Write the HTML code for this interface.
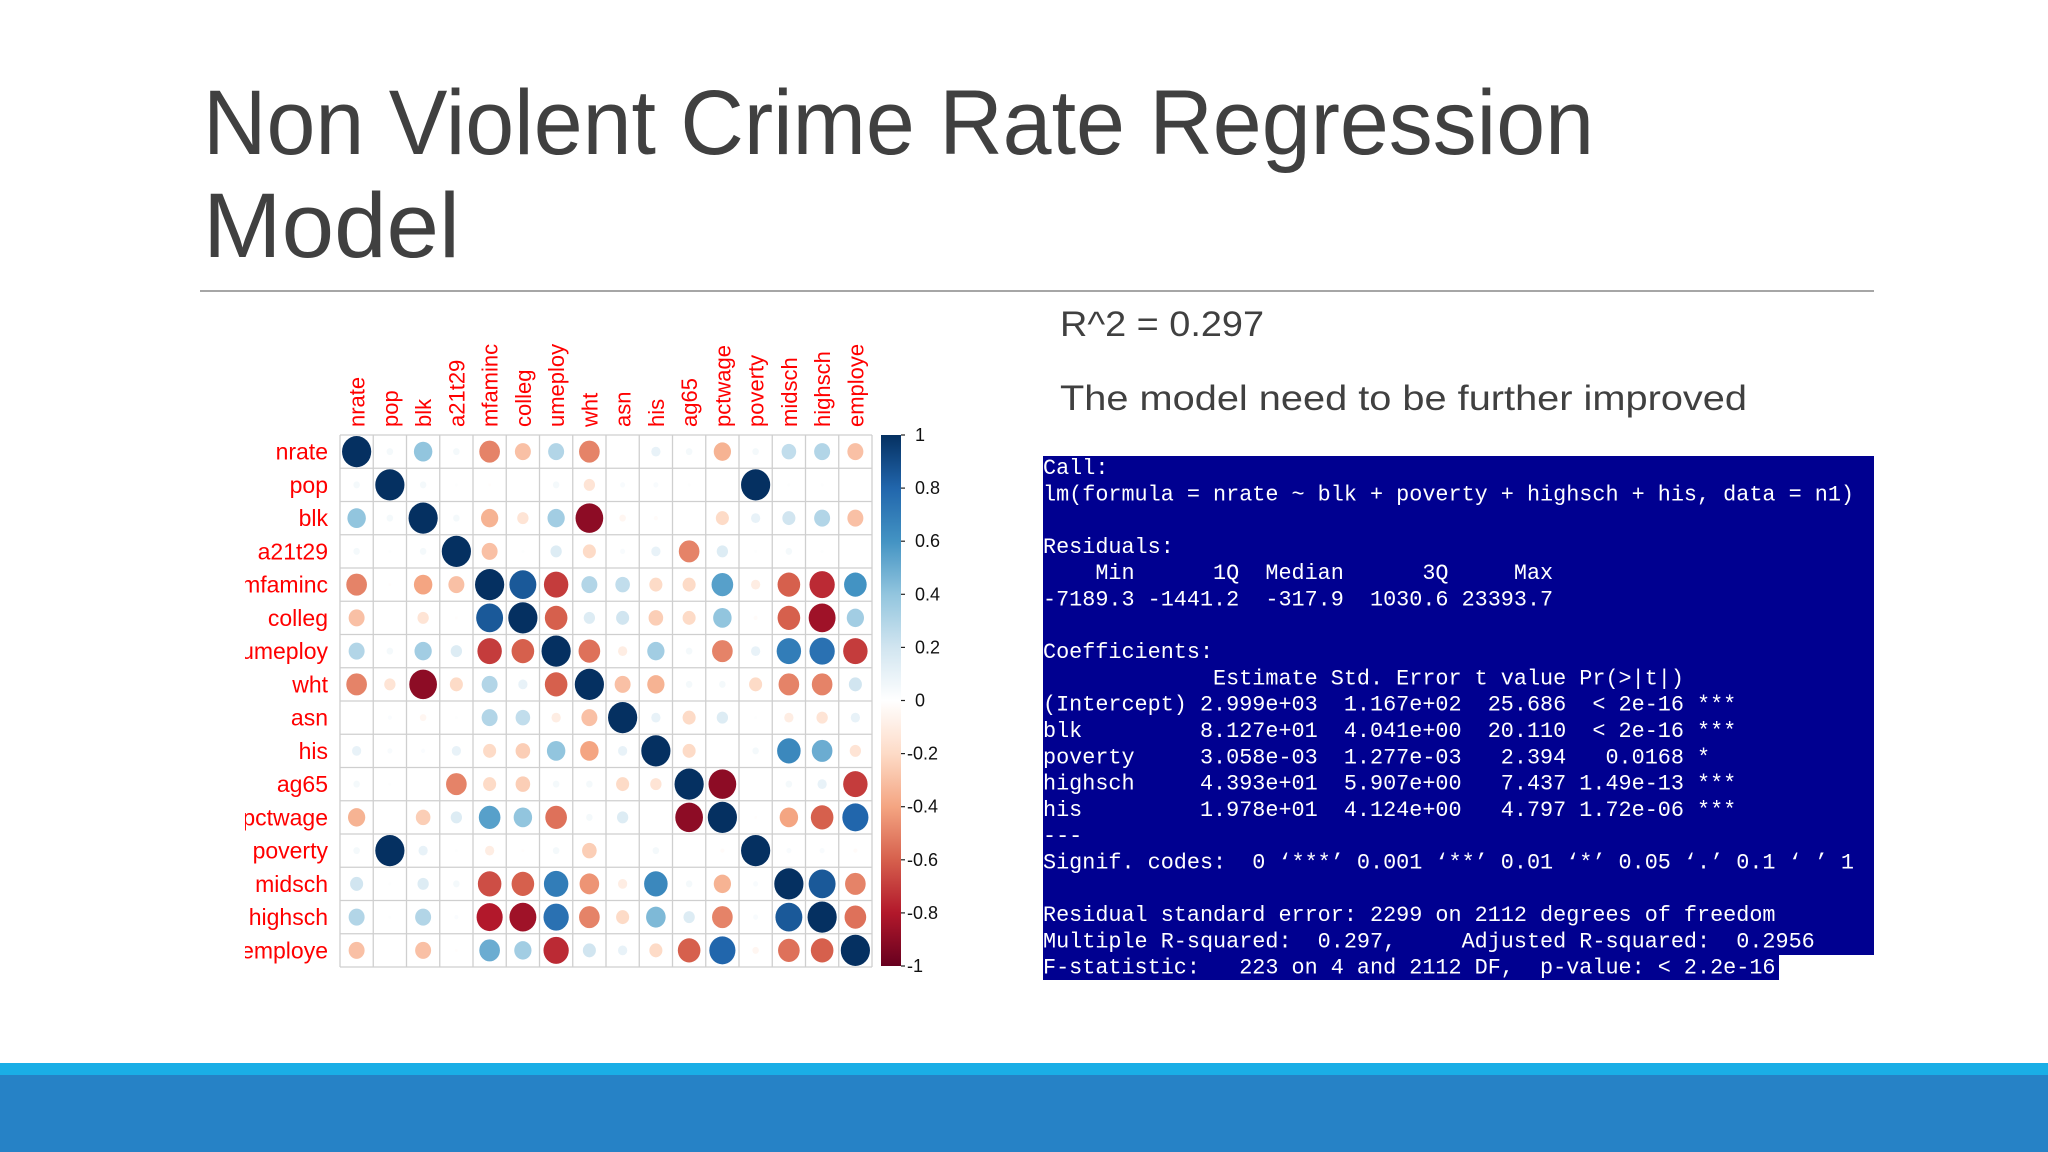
<!DOCTYPE html>
<html><head><meta charset="utf-8"><style>
html,body{margin:0;padding:0;background:#fff;}
svg{display:block;}
</style></head><body>
<svg id="slide" width="2048" height="1152" viewBox="0 0 2048 1152" xmlns="http://www.w3.org/2000/svg">
<defs>
<linearGradient id="cbar" x1="0" y1="1" x2="0" y2="0">
<stop offset="0" stop-color="#67001F"/><stop offset="0.1" stop-color="#B2182B"/><stop offset="0.2" stop-color="#D6604D"/><stop offset="0.3" stop-color="#F4A582"/><stop offset="0.4" stop-color="#FDDBC7"/><stop offset="0.5" stop-color="#FFFFFF"/><stop offset="0.6" stop-color="#D1E5F0"/><stop offset="0.7" stop-color="#92C5DE"/><stop offset="0.8" stop-color="#4393C3"/><stop offset="0.9" stop-color="#2166AC"/><stop offset="1" stop-color="#053061"/>
</linearGradient>
<clipPath id="rowclip"><rect x="245" y="420" width="100" height="560"/></clipPath>
</defs>
<rect x="0" y="0" width="2048" height="1152" fill="#fff"/>
<g font-family="Liberation Sans, sans-serif" font-size="92" fill="#404040">
<text x="203" y="154" textLength="1391" lengthAdjust="spacingAndGlyphs">Non Violent Crime Rate Regression</text>
<text x="203" y="257" textLength="257" lengthAdjust="spacingAndGlyphs">Model</text>
</g>
<rect x="200" y="290" width="1674" height="2" fill="#a6a6a6"/>
<text x="1060" y="336" font-family="Liberation Sans, sans-serif" font-size="35" fill="#404040" textLength="204" lengthAdjust="spacingAndGlyphs">R^2 = 0.297</text>
<text x="1060" y="410" font-family="Liberation Sans, sans-serif" font-size="35" fill="#404040" textLength="687" lengthAdjust="spacingAndGlyphs">The model need to be further improved</text>

<g id="corrplot"></g>

<g>
<rect x="1043" y="456" width="831" height="499" fill="#000090"/>
<rect x="1043" y="950" width="736" height="30" fill="#000090"/>
<g id="code" font-family="Liberation Mono, monospace" font-size="21.8" fill="#ffffff"></g>
</g>

<rect x="0" y="1063" width="2048" height="12" fill="#1aaee6"/>
<rect x="0" y="1075" width="2048" height="77" fill="#2682c6"/>
</svg>
<script>
const vars = ["nrate","pop","blk","a21t29","mfaminc","colleg","umeploy","wht","asn","his","ag65","pctwage","poverty","midsch","highsch","employe"];
const r_nrate   = [1,0.05,0.4,0.05,-0.5,-0.3,0.3,-0.5,0,0.1,0.05,-0.35,0.05,0.25,0.3,-0.3];
const r_pop     = [0.05,1,0.05,0.01,-0.01,0,0.05,-0.15,0.03,0.03,0.01,0,1,0.01,0.01,0];
const r_blk     = [0.4,0.05,1,0.05,-0.35,-0.15,0.35,-0.9,-0.05,-0.02,0,-0.2,0.1,0.2,0.3,-0.3];
const r_a21t29  = [0.05,0.01,0.05,1,-0.3,0.01,0.15,-0.2,0.03,0.1,-0.5,0.15,0.01,0.05,0.01,0];
const r_mfaminc = [-0.5,-0.01,-0.4,-0.3,1,0.85,-0.7,0.3,0.25,-0.2,-0.2,0.55,-0.1,-0.6,-0.75,0.6];
const r_colleg  = [-0.3,0,-0.15,-0.01,0.85,1,-0.6,0.15,0.2,-0.25,-0.2,0.4,-0.02,-0.6,-0.85,0.35];
const r_umeploy = [0.3,0.05,0.35,0.15,-0.7,-0.6,1,-0.55,-0.1,0.35,0.05,-0.5,0.1,0.7,0.75,-0.7];
const r_wht     = [-0.5,-0.15,-0.9,-0.2,0.3,0.1,-0.6,1,-0.3,-0.35,0.05,0.05,-0.2,-0.5,-0.5,0.2];
const r_asn     = [0,0.02,-0.05,0.01,0.3,0.25,-0.1,-0.3,1,0.1,-0.2,0.15,0.01,-0.1,-0.15,0.1];
const r_his     = [0.1,0.03,0.02,0.1,-0.2,-0.25,0.4,-0.4,0.1,1,-0.2,0,0.05,0.65,0.5,-0.15];
const r_ag65    = [0.05,0.01,0,-0.5,-0.2,-0.25,0.05,0.05,-0.2,-0.15,1,-0.9,0,0.05,0.1,-0.7];
const r_pctwage = [-0.35,0,-0.25,0.15,0.55,0.4,-0.55,0.05,0.15,0,-0.9,1,-0.01,-0.4,-0.6,0.8];
const r_poverty = [0.05,1,0.1,0.01,-0.1,-0.01,0.05,-0.25,0,0.05,0,-0.02,1,0.03,0.03,-0.02];
const r_midsch  = [0.2,0.01,0.15,0.05,-0.65,-0.6,0.7,-0.45,-0.1,0.65,0.05,-0.35,0.03,1,0.85,-0.5];
const r_highsch = [0.3,0.01,0.3,0.02,-0.8,-0.85,0.75,-0.5,-0.2,0.45,0.15,-0.5,0.03,0.85,1,-0.55];
const r_employe = [-0.3,0,-0.3,-0.01,0.5,0.35,-0.75,0.2,0.1,-0.2,-0.6,0.8,-0.05,-0.55,-0.6,1];
const matrix = [r_nrate,r_pop,r_blk,r_a21t29,r_mfaminc,r_colleg,r_umeploy,r_wht,r_asn,r_his,r_ag65,r_pctwage,r_poverty,r_midsch,r_highsch,r_employe];
const cbarTicks = [1,0.8,0.6,0.4,0.2,0,-0.2,-0.4,-0.6,-0.8,-1];
const cbarLabels = ["1","0.8","0.6","0.4","0.2","0","-0.2","-0.4","-0.6","-0.8","-1"];

const NS="http://www.w3.org/2000/svg";
const gx0=340, gy0=435, cell=33.25, n=vars.length;
const cx=i=>gx0+cell*(i+0.5), cy=i=>gy0+cell*(i+0.5);
const cbX=881, cbW=20, cbTop=435, cbBot=966;
const cbY=v=>cbBot-(v+1)/2*(cbBot-cbTop);
const pal=["#67001F","#B2182B","#D6604D","#F4A582","#FDDBC7","#FFFFFF","#D1E5F0","#92C5DE","#4393C3","#2166AC","#053061"];
function hex(h){return [1,3,5].map(k=>parseInt(h.substr(k,2),16));}
function col(v){const t=(v+1)/2*10;const i=Math.min(9,Math.floor(t));const f=t-i;const a=hex(pal[i]),b=hex(pal[i+1]);return "rgb("+a.map((x,k)=>Math.round(x+(b[k]-x)*f)).join(",")+")";}
function mk(tag,attrs,parent){const e=document.createElementNS(NS,tag);for(const k in attrs)e.setAttribute(k,attrs[k]);parent.appendChild(e);return e;}
const g=document.getElementById('corrplot');
const grid=mk('g',{stroke:"#cfcfcf","stroke-width":"1.3",fill:"none"},g);


for(let i=0;i<=n;i++){
 mk('line',{x1:gx0+cell*i,y1:gy0,x2:gx0+cell*i,y2:gy0+cell*n},grid);
 mk('line',{x1:gx0,y1:gy0+cell*i,x2:gx0+cell*n,y2:gy0+cell*i},grid);
}
for(let r=0;r<n;r++){for(let c=0;c<n;c++){
 const v=matrix[r][c];const s=Math.sqrt(Math.abs(v));
 if(s<0.01)continue;
 const e=mk('ellipse',{cx:cx(c),cy:cy(r),rx:14.6*s,ry:15.6*s,fill:col(v)},g);
 
 
}}
const rl=mk('g',{"clip-path":"url(#rowclip)","font-family":"Liberation Sans, sans-serif","font-size":"23",fill:"#ff0000","text-anchor":"end"},g);
vars.forEach((v,i)=>{const t=mk('text',{x:328,y:cy(i)+8},rl);t.textContent=v;
 
 });
vars.forEach((v,i)=>{const x=cx(i)+8;const t=mk('text',{x:x,y:427,transform:"rotate(-90 "+x+" 427)","font-family":"Liberation Sans, sans-serif","font-size":"22",fill:"#ff0000"},g);t.textContent=v;
 
 });
const cb=mk('rect',{x:cbX,y:cbTop,width:cbW,height:cbBot-cbTop,fill:"url(#cbar)"},g);


cbarTicks.forEach((v,i)=>{
 mk('line',{x1:cbX+cbW,y1:cbY(v),x2:cbX+cbW+4,y2:cbY(v),stroke:"#222","stroke-width":"1.2"},g);
 const t=mk('text',{x:cbX+cbW+(v<0?6:14),y:cbY(v)+6,"font-family":"Liberation Sans, sans-serif","font-size":"18",fill:"#111"},g);
 t.textContent=cbarLabels[i];
 
 
});
const lines=["Call:","lm(formula = nrate ~ blk + poverty + highsch + his, data = n1)","","Residuals:","    Min      1Q  Median      3Q     Max ","-7189.3 -1441.2  -317.9  1030.6 23393.7 ","","Coefficients:","             Estimate Std. Error t value Pr(>|t|)    ","(Intercept) 2.999e+03  1.167e+02  25.686  < 2e-16 ***","blk         8.127e+01  4.041e+00  20.110  < 2e-16 ***","poverty     3.058e-03  1.277e-03   2.394   0.0168 *  ","highsch     4.393e+01  5.907e+00   7.437 1.49e-13 ***","his         1.978e+01  4.124e+00   4.797 1.72e-06 ***","---","Signif. codes:  0 \u2018***\u2019 0.001 \u2018**\u2019 0.01 \u2018*\u2019 0.05 \u2018.\u2019 0.1 \u2018 \u2019 1","","Residual standard error: 2299 on 2112 degrees of freedom","Multiple R-squared:  0.297,\tAdjusted R-squared:  0.2956 ","F-statistic:   223 on 4 and 2112 DF,  p-value: < 2.2e-16"];
const code=document.getElementById('code');
lines.forEach((l,i)=>{if(!l)return;const t=mk('text',{x:1043,y:474+i*26.3,"xml:space":"preserve"},code);
 t.style.whiteSpace="pre";
 t.textContent=l.replace("\t","     ");
 
 });
</script>
</body></html>
